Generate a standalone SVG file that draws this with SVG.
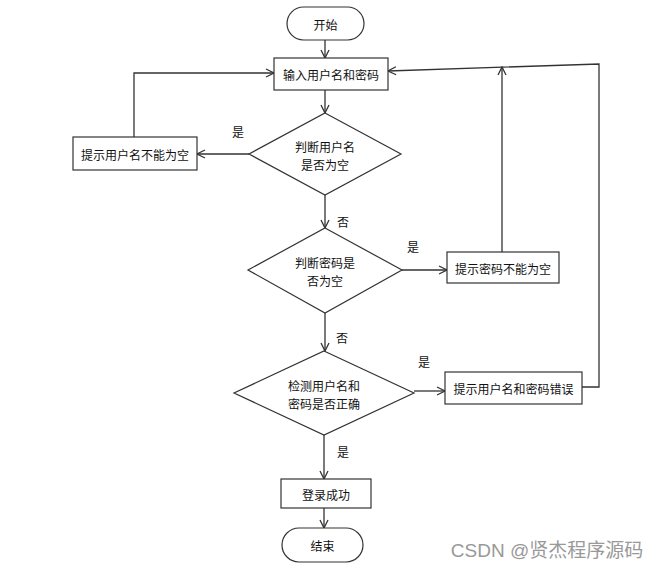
<svg xmlns="http://www.w3.org/2000/svg" width="658" height="571" viewBox="0 0 658 571">
<style>
.s{fill:#fff;stroke:#333;stroke-width:1.2}
.t{font-family:"Noto Sans CJK SC","Liberation Sans",sans-serif;font-size:12px;fill:#111;text-anchor:middle;dominant-baseline:central}
.c{fill:none;stroke:#333;stroke-width:1.3}
.l{font-family:"Noto Sans CJK SC","Liberation Sans",sans-serif;font-size:12px;fill:#111;text-anchor:middle;dominant-baseline:central}
</style>
<defs>
<marker id="a" viewBox="0 0 10 10" refX="9" refY="5" markerWidth="10" markerHeight="10" markerUnits="userSpaceOnUse" orient="auto">
<polyline points="1,1 9,5 1,9" fill="none" stroke="#333" stroke-width="1.3"/>
</marker>
</defs>
<rect width="658" height="571" fill="#fff"/>
<g id="connectors">
<line class="c" x1="325" y1="40" x2="325" y2="58" marker-end="url(#a)"/>
<line class="c" x1="325" y1="90" x2="325" y2="113" marker-end="url(#a)"/>
<line class="c" x1="249" y1="154" x2="197" y2="154" marker-end="url(#a)"/>
<polyline class="c" points="134,137 134,73 274,73" marker-end="url(#a)"/>
<line class="c" x1="325" y1="195" x2="325" y2="228" marker-end="url(#a)"/>
<line class="c" x1="402" y1="270" x2="447" y2="270" marker-end="url(#a)"/>
<line class="c" x1="502" y1="252" x2="502" y2="67" marker-end="url(#a)"/>
<line class="c" x1="325" y1="313" x2="325" y2="351" marker-end="url(#a)"/>
<line class="c" x1="414" y1="391" x2="445" y2="391" marker-end="url(#a)"/>
<polyline class="c" points="582,387 599,387 599,64 388,71" marker-end="url(#a)" stroke="#111" stroke-width="1.8"/>
<line class="c" x1="324" y1="435" x2="324" y2="479" marker-end="url(#a)"/>
<line class="c" x1="324" y1="508" x2="324" y2="528" marker-end="url(#a)"/>
<text class="l" x="238" y="131">是</text>
<text class="l" x="343" y="221">否</text>
<text class="l" x="413" y="246">是</text>
<text class="l" x="342" y="337">否</text>
<text class="l" x="424" y="361">是</text>
<text class="l" x="343" y="451">是</text>
</g>
<g id="start">
<rect class="s" x="287" y="7" width="77" height="33" rx="16.5"/>
<text class="t" x="325.5" y="24">开始</text>
</g>
<g id="input">
<rect class="s" x="274" y="58" width="114" height="32"/>
<text class="t" x="331" y="74">输入用户名和密码</text>
</g>
<g id="check-user">
<polygon class="s" points="325,113 401,154 325,195 249,154"/>
<text class="t" x="325" y="146">判断用户名</text>
<text class="t" x="325" y="164">是否为空</text>
</g>
<g id="user-empty">
<rect class="s" x="73" y="137" width="124" height="33"/>
<text class="t" x="135" y="154">提示用户名不能为空</text>
</g>
<g id="check-pwd">
<polygon class="s" points="325,228 402,270 325,313 248,270"/>
<text class="t" x="325" y="262">判断密码是</text>
<text class="t" x="325" y="280">否为空</text>
</g>
<g id="pwd-empty">
<rect class="s" x="447" y="252" width="112" height="31"/>
<text class="t" x="503" y="268">提示密码不能为空</text>
</g>
<g id="check-both">
<polygon class="s" points="324,351 414,393 324,435 234,393"/>
<text class="t" x="324" y="385">检测用户名和</text>
<text class="t" x="324" y="403">密码是否正确</text>
</g>
<g id="wrong">
<rect class="s" x="445" y="372" width="137" height="32"/>
<text class="t" x="513.5" y="388">提示用户名和密码错误</text>
</g>
<g id="success">
<rect class="s" x="281" y="479" width="90" height="29"/>
<text class="t" x="326" y="494">登录成功</text>
</g>
<g id="end">
<rect class="s" x="282" y="528" width="81" height="34" rx="17"/>
<text class="t" x="322.5" y="545">结束</text>
</g>
<text x="547" y="550" font-family="Liberation Sans,'Noto Sans CJK SC',sans-serif" font-size="19" fill="#999" text-anchor="middle" dominant-baseline="central">CSDN @贤杰程序源码</text>
</svg>
